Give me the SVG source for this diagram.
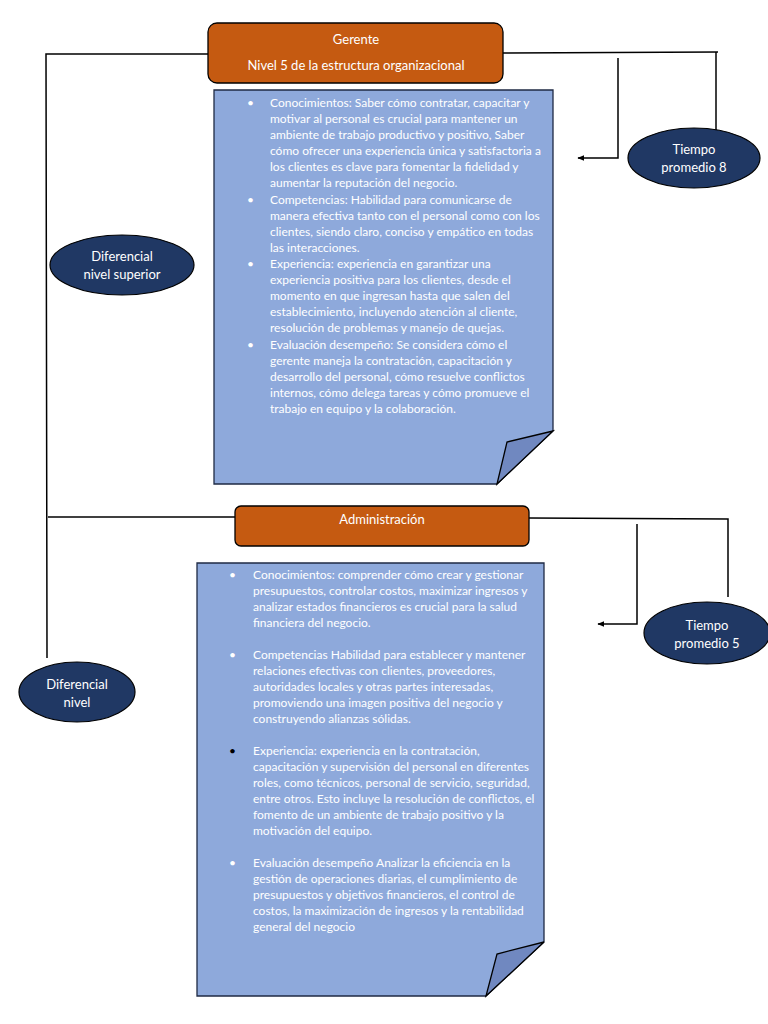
<svg xmlns="http://www.w3.org/2000/svg" width="768" height="1024" viewBox="0 0 768 1024">
<defs>
<style>
.hdr{fill:#C55A11;stroke:#000;stroke-width:1.3}
.doc{fill:#8EA9DB;stroke:#1F2A44;stroke-width:1.3}
.fold{fill:#7088C0;stroke:#000;stroke-width:1.3}
.ell{fill:#203864;stroke:#000;stroke-width:1.2}
.ln{fill:none;stroke:#000;stroke-width:1.5}
.t{font-family:Lato,"Liberation Sans",sans-serif;fill:#fff}
.b{font-size:12px}
.h{font-size:13px;text-anchor:middle}
.e{font-size:13px;text-anchor:middle}
</style>
<marker id="ah" viewBox="0 0 10 10" refX="9" refY="5" markerWidth="7" markerHeight="7" orient="auto-start-reverse" markerUnits="userSpaceOnUse"><path d="M0,1 L10,5 L0,9 z" fill="#000"/></marker>
</defs>
<rect width="768" height="1024" fill="#fff"/>
<g id="connectors">
<polyline class="ln" points="208,54 46,54 47,658"/>
<polyline class="ln" points="503,53 718,52"/>
<polyline class="ln" points="716,52 716,130"/>
<polyline class="ln" points="618,58 618,158 578,158" marker-end="url(#ah)"/>
<polyline class="ln" points="235,517 48,517"/>
<polyline class="ln" points="529,518 728,519 728,597"/>
<polyline class="ln" points="637,524 637,624 598,624" marker-end="url(#ah)"/>
</g>
<g id="gerente">
<rect class="hdr" x="208" y="23" width="295" height="60" rx="9"/>
<text class="t h" x="356" y="44">Gerente</text>
<text class="t h" x="356" y="70">Nivel 5 de la estructura organizacional</text>
</g>
<g id="doc1">
<path class="doc" d="M214,90 H553 V431 L497,484 H214 Z"/>
<polygon class="fold" points="553,431 507,442 497,484"/>
<g class="t b">
<text x="247" y="107">•</text>
<text x="270" y="107">Conocimientos: Saber cómo contratar, capacitar y</text>
<text x="270" y="123">motivar al personal es crucial para mantener un</text>
<text x="270" y="139">ambiente de trabajo productivo y positivo, Saber</text>
<text x="270" y="155">cómo ofrecer una experiencia única y satisfactoria a</text>
<text x="270" y="171">los clientes es clave para fomentar la fidelidad y</text>
<text x="270" y="187">aumentar la reputación del negocio.</text>
<text x="247" y="204">•</text>
<text x="270" y="204">Competencias: Habilidad para comunicarse de</text>
<text x="270" y="220">manera efectiva tanto con el personal como con los</text>
<text x="270" y="236">clientes, siendo claro, conciso y empático en todas</text>
<text x="270" y="252">las interacciones.</text>
<text x="247" y="268">•</text>
<text x="270" y="268">Experiencia: experiencia en garantizar una</text>
<text x="270" y="284">experiencia positiva para los clientes, desde el</text>
<text x="270" y="300">momento en que ingresan hasta que salen del</text>
<text x="270" y="316">establecimiento, incluyendo atención al cliente,</text>
<text x="270" y="332">resolución de problemas y manejo de quejas.</text>
<text x="247" y="349">•</text>
<text x="270" y="349">Evaluación desempeño: Se considera cómo el</text>
<text x="270" y="365">gerente maneja la contratación, capacitación y</text>
<text x="270" y="381">desarrollo del personal, cómo resuelve conflictos</text>
<text x="270" y="397">internos, cómo delega tareas y cómo promueve el</text>
<text x="270" y="413">trabajo en equipo y la colaboración.</text>
</g>
</g>
<g id="tiempo8">
<ellipse class="ell" cx="694" cy="158" rx="66" ry="30"/>
<text class="t e" x="694" y="154">Tiempo</text>
<text class="t e" x="694" y="172">promedio 8</text>
</g>
<g id="difsup">
<ellipse class="ell" cx="122" cy="265" rx="72" ry="30"/>
<text class="t e" x="122" y="261">Diferencial</text>
<text class="t e" x="122" y="279">nivel superior</text>
</g>
<g id="admin">
<rect class="hdr" x="235" y="506" width="294" height="40" rx="6"/>
<text class="t h" x="382" y="524">Administración</text>
</g>
<g id="doc2">
<path class="doc" d="M197,563 H544 V942 L486,996 H197 Z"/>
<polygon class="fold" points="544,942 497,954 486,996"/>
<g class="t b">
<text x="229" y="579">•</text>
<text x="253" y="579">Conocimientos: comprender cómo crear y gestionar</text>
<text x="253" y="595">presupuestos, controlar costos, maximizar ingresos y</text>
<text x="253" y="611">analizar estados financieros es crucial para la salud</text>
<text x="253" y="627">financiera del negocio.</text>
<text x="229" y="659">•</text>
<text x="253" y="659">Competencias Habilidad para establecer y mantener</text>
<text x="253" y="675">relaciones efectivas con clientes, proveedores,</text>
<text x="253" y="691">autoridades locales y otras partes interesadas,</text>
<text x="253" y="707">promoviendo una imagen positiva del negocio y</text>
<text x="253" y="723">construyendo alianzas sólidas.</text>
<text x="229" y="755" style="fill:#000">•</text>
<text x="253" y="755">Experiencia: experiencia en la contratación,</text>
<text x="253" y="771">capacitación y supervisión del personal en diferentes</text>
<text x="253" y="787">roles, como técnicos, personal de servicio, seguridad,</text>
<text x="253" y="803">entre otros. Esto incluye la resolución de conflictos, el</text>
<text x="253" y="819">fomento de un ambiente de trabajo positivo y la</text>
<text x="253" y="835">motivación del equipo.</text>
<text x="229" y="867">•</text>
<text x="253" y="867">Evaluación desempeño Analizar la eficiencia en la</text>
<text x="253" y="883">gestión de operaciones diarias, el cumplimiento de</text>
<text x="253" y="899">presupuestos y objetivos financieros, el control de</text>
<text x="253" y="915">costos, la maximización de ingresos y la rentabilidad</text>
<text x="253" y="931">general del negocio</text>
</g>
</g>
<g id="tiempo5">
<ellipse class="ell" cx="707" cy="633" rx="63" ry="31"/>
<text class="t e" x="707" y="630">Tiempo</text>
<text class="t e" x="707" y="648">promedio 5</text>
</g>
<g id="difnivel">
<ellipse class="ell" cx="77" cy="692" rx="58" ry="30"/>
<text class="t e" x="77" y="689">Diferencial</text>
<text class="t e" x="77" y="707">nivel</text>
</g>
</svg>
